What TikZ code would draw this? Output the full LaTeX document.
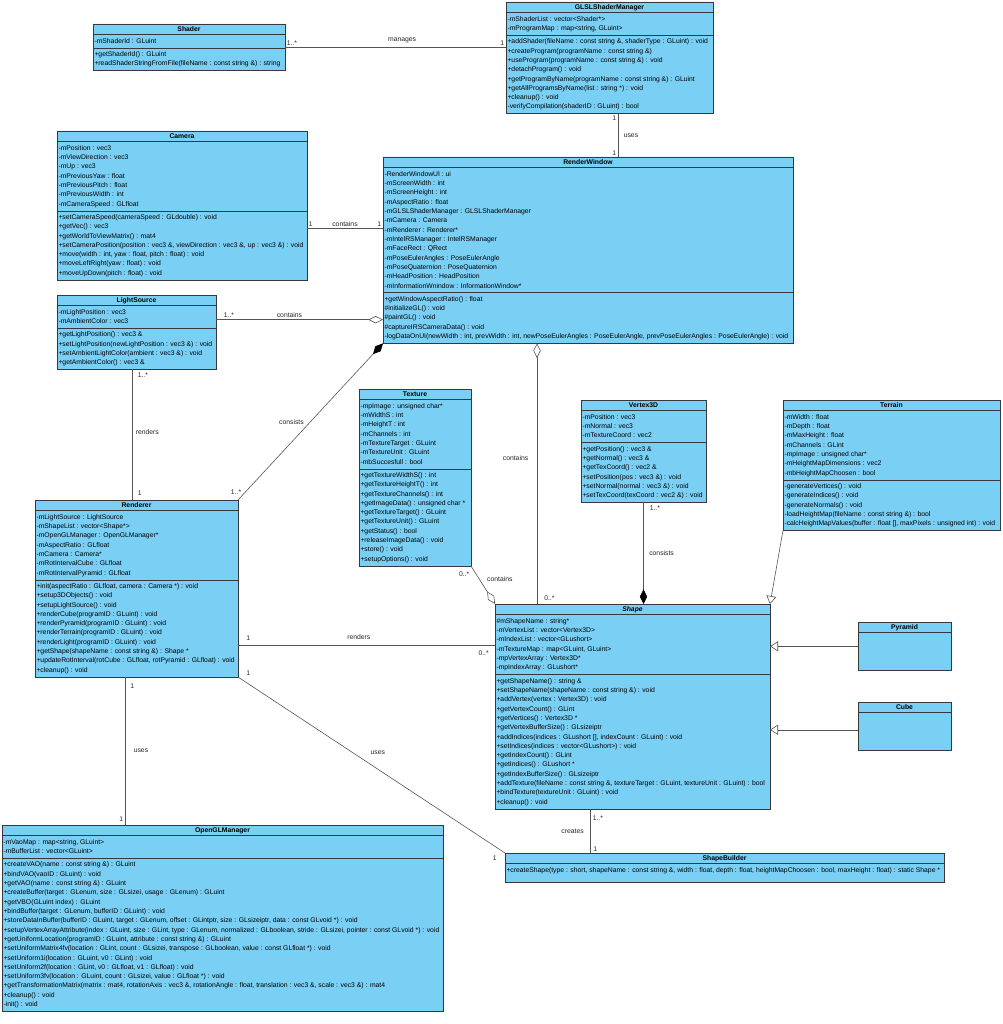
\documentclass[tikz,border=0pt]{standalone}
\usepackage{fontspec}
\setmainfont{Liberation Sans}
\usetikzlibrary{shapes.multipart,arrows.meta}
\definecolor{clsfill}{RGB}{122,207,245}
\definecolor{clsline}{RGB}{55,55,60}
\definecolor{conncol}{RGB}{85,85,85}
\tikzset{
  cls/.style={rectangle split, rectangle split parts=3, draw=clsline, fill=clsfill,
    line width=0.8pt, anchor=north west, inner xsep=1.5pt, inner ysep=1.5pt, outer sep=0pt,
    align=left, rectangle split part align={center,left,left},
    font=\fontsize{6.8}{9.33}\selectfont},
  cls2/.style={cls, rectangle split parts=2, rectangle split part align={center,left}},
  conn/.style={draw=conncol, line width=0.6pt},
  aggrend/.style={conn, -{Diamond[fill=white, length=14.7pt, width=7.3pt]}},
  aggrstart/.style={conn, {Diamond[fill=white, length=14.7pt, width=7.3pt]}-},
  compend/.style={conn, -{Diamond[color=black, fill=black, length=14.7pt, width=7.3pt]}},
  gen/.style={conn, -{Triangle[fill=white, length=8pt, width=10pt]}},
  lbl/.style={font=\fontsize{6.8}{8}\selectfont, text=black!85, inner sep=1.5pt}
}
\newcommand{\clshead}[1]{\rule[-1.8pt]{0pt}{7pt}\textbf{#1}}
\begin{document}
\begin{tikzpicture}[x=1pt, y=-1pt]
\fill[white] (0,0) rectangle (1002,1024);
\useasboundingbox (0,0) rectangle (1002,1024);
% classes
\node[cls, minimum width=192pt] (shader) at (93,24) {\clshead{Shader}
  \nodepart{second}\strut-mShaderId : GLuint\strut
  \nodepart{third}\strut+getShaderId() : GLuint\\
  +readShaderStringFromFile(fileName : const string \&) : string\strut};
\node[cls, minimum width=207pt] (glsl) at (506,2) {\clshead{GLSLShaderManager}
  \nodepart{second}\strut-mShaderList : vector<Shader*>\\
  -mProgramMap : map<string, GLuint>\strut
  \nodepart{third}\strut+addShader(fileName : const string \&, shaderType : GLuint) : void\\
  +createProgram(programName : const string \&)\\
  +useProgram(programName : const string \&) : void\\
  +detachProgram() : void\\
  +getProgramByName(programName : const string \&) : GLuint\\
  +getAllProgramsByName(list : string *) : void\\
  +cleanup() : void\\
  -verifyCompilation(shaderID : GLuint) : bool\strut};
\node[cls, minimum width=250pt] (camera) at (57,131) {\clshead{Camera}
  \nodepart{second}\strut-mPosition : vec3\\
  -mViewDirection : vec3\\
  -mUp : vec3\\
  -mPreviousYaw : float\\
  -mPreviousPitch : float\\
  -mPreviousWidth : int\\
  -mCameraSpeed : GLfloat\strut
  \nodepart{third}\strut+setCameraSpeed(cameraSpeed : GLdouble) : void\\
  +getVec() : vec3\\
  +getWorldToViewMatrix() : mat4\\
  +setCameraPosition(position : vec3 \&, viewDirection : vec3 \&, up : vec3 \&) : void\\
  +move(width : int, yaw : float, pitch : float) : void\\
  +moveLeftRight(yaw : float) : void\\
  +moveUpDown(pitch : float) : void\strut};
\node[cls, minimum width=410pt] (rwin) at (383,157) {\clshead{RenderWindow}
  \nodepart{second}\strut-RenderWindowUI : ui\\
  -mScreenWidth : int\\
  -mScreenHeight : int\\
  -mAspectRatio : float\\
  -mGLSLShaderManager : GLSLShaderManager\\
  -mCamera : Camera\\
  -mRenderer : Renderer*\\
  -mIntelRSManager : IntelRSManager\\
  -mFaceRect : QRect\\
  -mPoseEulerAngles : PoseEulerAngle\\
  -mPoseQuaternion : PoseQuaternion\\
  -mHeadPosition : HeadPosition\\
  -mInformationWnindow : InformationWindow*\strut
  \nodepart{third}\strut+getWindowAspectRatio() : float\\
  \#initializeGL() : void\\
  \#paintGL() : void\\
  \#captureIRSCameraData() : void\\
  -logDataOnUI(newWidth : int, prevWidth : int, newPoseEulerAngles : PoseEulerAngle, prevPoseEulerAngles : PoseEulerAngle) : void\strut};
\node[cls, minimum width=159pt] (light) at (57,295) {\clshead{LightSource}
  \nodepart{second}\strut-mLightPosition : vec3\\
  -mAmbientColor : vec3\strut
  \nodepart{third}\strut+getLightPosition() : vec3 \&\\
  +setLightPosition(newLightPosition : vec3 \&) : void\\
  +setAmbientLightColor(ambient : vec3 \&) : void\\
  +getAmbientColor() : vec3 \&\strut};
\node[cls, minimum width=112pt] (texture) at (359,389) {\clshead{Texture}
  \nodepart{second}\strut-mpImage : unsigned char*\\
  -mWidthS : int\\
  -mHeightT : int\\
  -mChannels : int\\
  -mTextureTarget : GLuint\\
  -mTextureUnit : GLuint\\
  -mbSuccesfull : bool\strut
  \nodepart{third}\strut+getTextureWidthS() : int\\
  +getTextureHeightT() : int\\
  +getTextureChannels() : int\\
  +getImageData() : unsigned char *\\
  +getTextureTarget() : GLuint\\
  +getTextureUnit() : GLuint\\
  +getStatus() : bool\\
  +releaseImageData() : void\\
  +store() : void\\
  +setupOptions() : void\strut};
\node[cls, minimum width=125pt] (vertex) at (581,400) {\clshead{Vertex3D}
  \nodepart{second}\strut-mPosition : vec3\\
  -mNormal : vec3\\
  -mTextureCoord : vec2\strut
  \nodepart{third}\strut+getPosition() : vec3 \&\\
  +getNormal() : vec3 \&\\
  +getTexCoord() : vec2 \&\\
  +setPosition(pos : vec3 \&) : void\\
  +setNormal(normal : vec3 \&) : void\\
  +setTexCoord(texCoord : vec2 \&) : void\strut};
\node[cls, minimum width=217pt] (terrain) at (783,400) {\clshead{Terrain}
  \nodepart{second}\strut-mWidth : float\\
  -mDepth : float\\
  -mMaxHeight : float\\
  -mChannels : GLint\\
  -mpImage : unsigned char*\\
  -mHeightMapDimensions : vec2\\
  -mbHeightMapChoosen : bool\strut
  \nodepart{third}\strut-generateVertices() : void\\
  -generateIndices() : void\\
  -generateNormals() : void\\
  -loadHeightMap(fileName : const string \&) : bool\\
  -calcHeightMapValues(buffer : float [], maxPixels : unsigned int) : void\strut};
\node[cls, minimum width=203pt] (renderer) at (35,500) {\clshead{Renderer}
  \nodepart{second}\strut-mLightSource : LightSource\\
  -mShapeList : vector<Shape*>\\
  -mOpenGLManager : OpenGLManager*\\
  -mAspectRatio : GLfloat\\
  -mCamera : Camera*\\
  -mRotIntervalCube : GLfloat\\
  -mRotIntervalPyramid : GLfloat\strut
  \nodepart{third}\strut+init(aspectRatio : GLfloat, camera : Camera *) : void\\
  +setup3DObjects() : void\\
  +setupLightSource() : void\\
  +renderCube(programID : GLuint) : void\\
  +renderPyramid(programID : GLuint) : void\\
  +renderTerrain(programID : GLuint) : void\\
  +renderLight(programID : GLuint) : void\\
  +getShape(shapeName : const string \&) : Shape *\\
  +updateRotInterval(rotCube : GLfloat, rotPyramid : GLfloat) : void\\
  +cleanup() : void\strut};
\node[cls, minimum width=275pt] (shape) at (495,604) {\clshead{\textit{Shape}}
  \nodepart{second}\strut\#mShapeName : string*\\
  -mVertexList : vector<Vertex3D>\\
  -mIndexList : vector<GLushort>\\
  -mTextureMap : map<GLuint, GLuint>\\
  -mpVertexArray : Vertex3D*\\
  -mpIndexArray : GLushort*\strut
  \nodepart{third}\strut+getShapeName() : string \&\\
  +setShapeName(shapeName : const string \&) : void\\
  +addVertex(vertex : Vertex3D) : void\\
  +getVertexCount() : GLint\\
  +getVertices() : Vertex3D *\\
  +getVertexBufferSize() : GLsizeiptr\\
  +addIndices(indices : GLushort [], indexCount : GLuint) : void\\
  +setIndices(indices : vector<GLushort>) : void\\
  +getIndexCount() : GLint\\
  +getIndices() : GLushort *\\
  +getIndexBufferSize() : GLsizeiptr\\
  +addTexture(fileName : const string \&, textureTarget : GLuint, textureUnit : GLuint) : bool\\
  +bindTexture(textureUnit : GLuint) : void\\
  +cleanup() : void\strut};
\node[cls2, minimum width=93pt] (pyramid) at (858,622) {\clshead{Pyramid}
  \nodepart{second}\rule{0pt}{34pt}};
\node[cls2, minimum width=93pt] (cube) at (858,702) {\clshead{Cube}
  \nodepart{second}\rule{0pt}{34pt}};
\node[cls, minimum width=441pt] (opengl) at (2,825) {\clshead{OpenGLManager}
  \nodepart{second}\strut-mVaoMap : map<string, GLuint>\\
  -mBufferList : vector<GLuint>\strut
  \nodepart{third}\strut+createVAO(name : const string \&) : GLuint\\
  +bindVAO(vaoID : GLuint) : void\\
  +getVAO(name : const string \&) : GLuint\\
  +createBuffer(target : GLenum, size : GLsizei, usage : GLenum) : GLuint\\
  +getVBO(GLuint index) : GLuint\\
  +bindBuffer(target : GLenum, bufferID : GLuint) : void\\
  +storeDataInBuffer(bufferID : GLuint, target : GLenum, offset : GLintptr, size : GLsizeiptr, data : const GLvoid *) : void\\
  +setupVertexArrayAttribute(index : GLuint, size : GLint, type : GLenum, normalized : GLboolean, stride : GLsizei, pointer : const GLvoid *) : void\\
  +getUniformLocation(programID : GLuint, attribute : const string \&) : GLuint\\
  +setUniformMatrix4fv(location : GLint, count : GLsizei, transpose : GLboolean, value : const GLfloat *) : void\\
  +setUniform1i(location : GLuint, v0 : GLint) : void\\
  +setUniform2f(location : GLint, v0 : GLfloat, v1 : GLfloat) : void\\
  +setUniform3fv(location : GLuint, count : GLsizei, value : GLfloat *) : void\\
  +getTransformationMatrix(matrix : mat4, rotationAxis : vec3 \&, rotationAngle : float, translation : vec3 \&, scale : vec3 \&) : mat4\\
  +cleanup() : void\\
  -init() : void\strut};
\node[cls2, minimum width=439pt] (sbuilder) at (505,853) {\clshead{ShapeBuilder}
  \nodepart{second}\strut+createShape(type : short, shapeName : const string \&, width : float, depth : float, heightMapChoosen : bool, maxHeight : float) : static Shape *\rule[-8.5pt]{0pt}{1pt}};
% connectors
\draw[conn] (shader.east) -- (shader.east -| glsl.west)
  node[lbl, pos=0, above right] {1..*}
  node[lbl, pos=0.53, above, yshift=2pt] {manages}
  node[lbl, pos=1, above left] {1};
\draw[conn] ([xshift=8.5pt]glsl.south) -- ([xshift=8.5pt]glsl.south |- rwin.north)
  node[lbl, pos=0, below left] {1}
  node[lbl, midway, right, xshift=4pt] {uses}
  node[lbl, pos=1, above left] {1};
\draw[conn] ([yshift=-23pt]camera.east) -- ([yshift=-23pt]camera.east -| rwin.west)
  node[lbl, pos=0, above right] {1}
  node[lbl, midway, above] {contains}
  node[lbl, pos=1, above left] {1};
\draw[aggrend] ([yshift=12.5pt]light.east) -- ([yshift=12.5pt]light.east -| rwin.west)
  node[lbl, pos=0, above right, xshift=6pt] {1..*}
  node[lbl, pos=0.44, above] {contains};
\draw[conn] ([xshift=-4.5pt]light.south) -- ([xshift=-4.5pt]light.south |- renderer.north)
  node[lbl, pos=0, below right, xshift=4pt, yshift=-2pt] {1..*}
  node[lbl, pos=0.48, right, xshift=2pt] {renders}
  node[lbl, pos=1, above right, xshift=4pt, yshift=3pt] {1};
\draw[compend] (renderer.north east) -- (rwin.south west)
  node[lbl, pos=0, anchor=south east, xshift=5pt, yshift=4pt] {1..*}
  node[lbl, pos=0.5, left, xshift=-5pt] {consists};
\draw[aggrstart] ([xshift=-51pt]rwin.south) -- ([xshift=-51pt]rwin.south |- shape.north)
  node[lbl, pos=0.44, left, xshift=-7pt] {contains}
  node[lbl, pos=1, above right, xshift=5.5pt, yshift=2pt] {0..*};
\draw[aggrend] (texture.south east) -- (shape.north west)
  node[lbl, pos=0, below left, yshift=-4pt] {0..*}
  node[lbl, pos=0.35, right, xshift=6pt] {contains};
\draw[compend] (vertex.south) -- (vertex.south |- shape.north)
  node[lbl, pos=0, below right, xshift=4.5pt, yshift=-2pt] {1..*}
  node[lbl, midway, right, xshift=4pt] {consists};
\draw[conn] ([yshift=-56.7pt]renderer.east) -- ([yshift=-56.7pt]renderer.east -| shape.west)
  node[lbl, pos=0, above right, xshift=6.5pt, yshift=3pt] {1}
  node[lbl, pos=0.47, above, yshift=4pt] {renders}
  node[lbl, pos=1, below left, xshift=-4.5pt, yshift=-4pt] {0..*};
\draw[gen] (terrain.south west) -- (shape.north east);
\draw[gen] (pyramid.west) -- (pyramid.west -| shape.east);
\draw[gen] ([yshift=-3.5pt]cube.west) -- ([yshift=-3.5pt]cube.west -| shape.east);
\draw[conn] ([xshift=-11.5pt]renderer.south) -- ([xshift=-11.5pt]renderer.south |- opengl.north)
  node[lbl, pos=0, below right, xshift=3.5pt, yshift=-5pt] {1}
  node[lbl, midway, right, xshift=7pt] {uses}
  node[lbl, pos=1, above left, yshift=2pt] {1};
\draw[conn] (renderer.south east) -- (sbuilder.north west)
  node[lbl, pos=0, right, xshift=6.5pt, yshift=4pt] {1}
  node[lbl, pos=0.43, right, xshift=16pt] {uses}
  node[lbl, pos=1, left, xshift=-6.5pt, yshift=-5pt] {1};
\draw[conn] ([xshift=-42.5pt]shape.south) -- ([xshift=-42.5pt]shape.south |- sbuilder.north)
  node[lbl, pos=0, below right, xshift=1pt, yshift=-5pt] {1..*}
  node[lbl, midway, left, xshift=-4.5pt] {creates}
  node[lbl, pos=1, above right, xshift=1.5pt] {1};
\end{tikzpicture}
\end{document}
